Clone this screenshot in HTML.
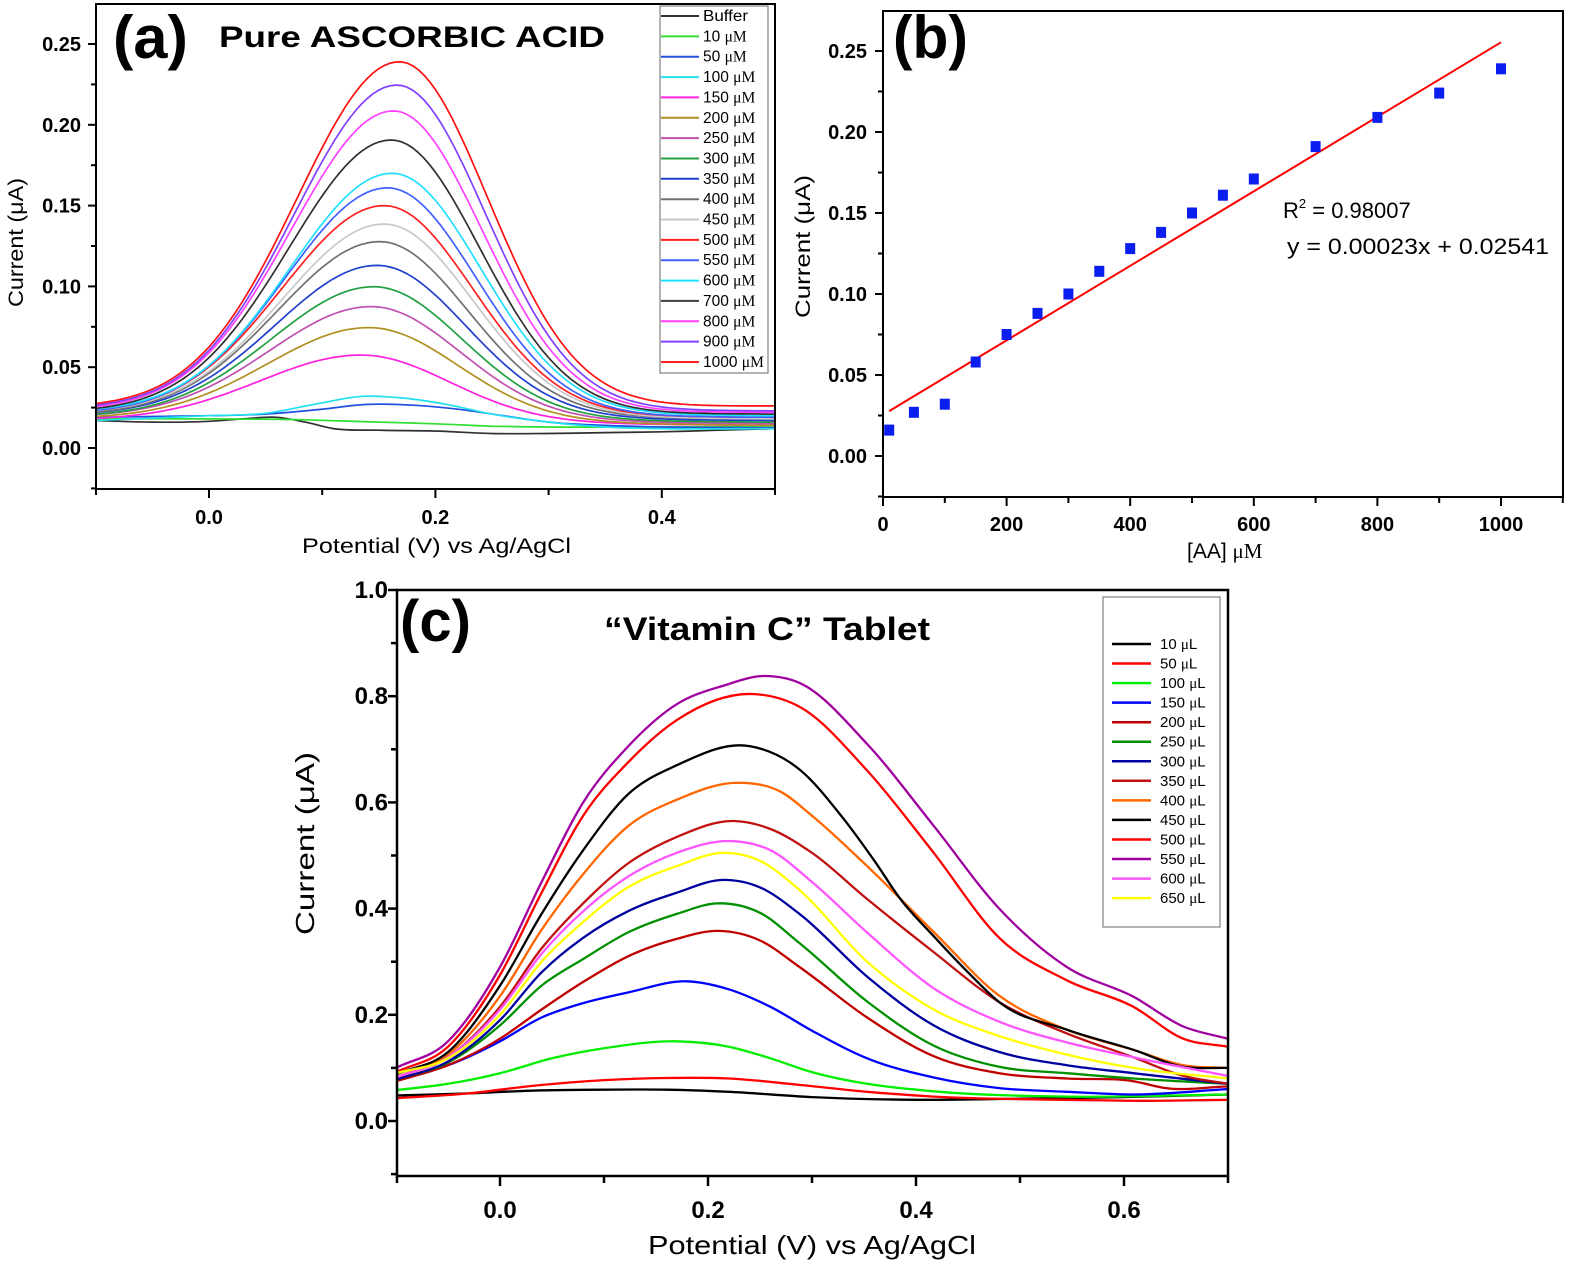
<!DOCTYPE html>
<html>
<head>
<meta charset="utf-8">
<style>
html,body{margin:0;padding:0;background:#fff;}
svg{display:block;}
text{font-family:"Liberation Sans",Arial,sans-serif;fill:#000;}
.b{font-weight:bold;}
.s{font-family:"Liberation Serif","Times New Roman",serif;}
.lg{font-size:15px;fill:#222;}
.lga{font-size:15.5px;fill:#222;}
</style>
</head>
<body>
<svg id="fig" width="1570" height="1265" viewBox="0 0 1570 1265" xmlns="http://www.w3.org/2000/svg">
<rect x="0" y="0" width="1570" height="1265" fill="#fff"/>
<defs>
<clipPath id="ca"><rect x="97" y="5" width="677" height="483"/></clipPath>
<clipPath id="cb"><rect x="884" y="12" width="678" height="484"/></clipPath>
<clipPath id="cc"><rect x="398" y="591" width="829" height="584"/></clipPath>
</defs>

<!-- ================= PANEL A ================= -->
<g id="curvesA" clip-path="url(#ca)" fill="none" stroke-width="1.7" stroke-linejoin="round"></g>
<rect x="96" y="4" width="679" height="485" fill="none" stroke="#000" stroke-width="2"/>
<g stroke="#000" stroke-width="2">
<line x1="88" y1="448" x2="96" y2="448"/><line x1="88" y1="367.2" x2="96" y2="367.2"/>
<line x1="88" y1="286.4" x2="96" y2="286.4"/><line x1="88" y1="205.6" x2="96" y2="205.6"/>
<line x1="88" y1="124.8" x2="96" y2="124.8"/><line x1="88" y1="44" x2="96" y2="44"/>
<line x1="91" y1="407.6" x2="96" y2="407.6"/><line x1="91" y1="326.8" x2="96" y2="326.8"/>
<line x1="91" y1="246" x2="96" y2="246"/><line x1="91" y1="165.2" x2="96" y2="165.2"/>
<line x1="91" y1="84.4" x2="96" y2="84.4"/><line x1="91" y1="488.4" x2="96" y2="488.4"/>
<line x1="209" y1="489" x2="209" y2="498"/><line x1="435.4" y1="489" x2="435.4" y2="498"/>
<line x1="661.8" y1="489" x2="661.8" y2="498"/>
<line x1="96" y1="489" x2="96" y2="495"/><line x1="322.2" y1="489" x2="322.2" y2="495"/>
<line x1="548.6" y1="489" x2="548.6" y2="495"/><line x1="775" y1="489" x2="775" y2="495"/>
</g>
<g class="b" font-size="20" text-anchor="end">
<text x="81" y="455">0.00</text>
<text x="81" y="374.2">0.05</text>
<text x="81" y="293.4">0.10</text>
<text x="81" y="212.6">0.15</text>
<text x="81" y="131.8">0.20</text>
<text x="81" y="51">0.25</text>
</g>
<g class="b" font-size="20" text-anchor="middle">
<text x="209" y="524">0.0</text>
<text x="435.4" y="524">0.2</text>
<text x="661.8" y="524">0.4</text>
</g>
<text x="302" y="553" font-size="21" textLength="269" lengthAdjust="spacingAndGlyphs">Potential (V) vs Ag/AgCl</text>
<text transform="translate(23,307) rotate(-90)" font-size="21" textLength="129" lengthAdjust="spacingAndGlyphs">Current (μA)</text>
<text class="b" x="113" y="58" font-size="60" textLength="75" lengthAdjust="spacingAndGlyphs">(a)</text>
<text class="b" x="219" y="47" font-size="30" textLength="386" lengthAdjust="spacingAndGlyphs">Pure ASCORBIC ACID</text>

<!-- legend A -->
<rect x="660" y="6" width="108" height="367" fill="#fff" stroke="#808080" stroke-width="1.2"/>
<g stroke-width="2">
<line x1="661" y1="16" x2="699" y2="16" stroke="#333"/>
<line x1="661" y1="36.4" x2="699" y2="36.4" stroke="#30e030"/>
<line x1="661" y1="56.7" x2="699" y2="56.7" stroke="#2050e0"/>
<line x1="661" y1="77.1" x2="699" y2="77.1" stroke="#20e0f0"/>
<line x1="661" y1="97.4" x2="699" y2="97.4" stroke="#ff20e0"/>
<line x1="661" y1="117.8" x2="699" y2="117.8" stroke="#b09020"/>
<line x1="661" y1="138.1" x2="699" y2="138.1" stroke="#c050b0"/>
<line x1="661" y1="158.5" x2="699" y2="158.5" stroke="#20a040"/>
<line x1="661" y1="178.8" x2="699" y2="178.8" stroke="#2040d0"/>
<line x1="661" y1="199.2" x2="699" y2="199.2" stroke="#707070"/>
<line x1="661" y1="219.5" x2="699" y2="219.5" stroke="#c8c8c8"/>
<line x1="661" y1="239.9" x2="699" y2="239.9" stroke="#ff2020"/>
<line x1="661" y1="260.2" x2="699" y2="260.2" stroke="#4060ff"/>
<line x1="661" y1="280.6" x2="699" y2="280.6" stroke="#20e0ff"/>
<line x1="661" y1="300.9" x2="699" y2="300.9" stroke="#404040"/>
<line x1="661" y1="321.3" x2="699" y2="321.3" stroke="#ff40ff"/>
<line x1="661" y1="341.6" x2="699" y2="341.6" stroke="#8040ff"/>
<line x1="661" y1="362" x2="699" y2="362" stroke="#ff2020"/>
</g>
<g class="lga">
<text x="703" y="21" textLength="45" lengthAdjust="spacingAndGlyphs">Buffer</text>
<text x="703" y="41.4">10 <tspan class="s">μM</tspan></text>
<text x="703" y="61.7">50 <tspan class="s">μM</tspan></text>
<text x="703" y="82.1">100 <tspan class="s">μM</tspan></text>
<text x="703" y="102.4">150 <tspan class="s">μM</tspan></text>
<text x="703" y="122.8">200 <tspan class="s">μM</tspan></text>
<text x="703" y="143.1">250 <tspan class="s">μM</tspan></text>
<text x="703" y="163.5">300 <tspan class="s">μM</tspan></text>
<text x="703" y="183.8">350 <tspan class="s">μM</tspan></text>
<text x="703" y="204.2">400 <tspan class="s">μM</tspan></text>
<text x="703" y="224.5">450 <tspan class="s">μM</tspan></text>
<text x="703" y="244.9">500 <tspan class="s">μM</tspan></text>
<text x="703" y="265.2">550 <tspan class="s">μM</tspan></text>
<text x="703" y="285.6">600 <tspan class="s">μM</tspan></text>
<text x="703" y="305.9">700 <tspan class="s">μM</tspan></text>
<text x="703" y="326.3">800 <tspan class="s">μM</tspan></text>
<text x="703" y="346.6">900 <tspan class="s">μM</tspan></text>
<text x="703" y="367">1000 <tspan class="s">μM</tspan></text>
</g>

<!-- ================= PANEL B ================= -->
<rect x="883" y="11" width="680" height="486" fill="none" stroke="#000" stroke-width="2"/>
<g stroke="#000" stroke-width="2">
<line x1="875" y1="456" x2="883" y2="456"/><line x1="875" y1="375" x2="883" y2="375"/>
<line x1="875" y1="294" x2="883" y2="294"/><line x1="875" y1="213" x2="883" y2="213"/>
<line x1="875" y1="132" x2="883" y2="132"/><line x1="875" y1="51" x2="883" y2="51"/>
<line x1="878" y1="415.5" x2="883" y2="415.5"/><line x1="878" y1="334.5" x2="883" y2="334.5"/>
<line x1="878" y1="253.5" x2="883" y2="253.5"/><line x1="878" y1="172.5" x2="883" y2="172.5"/>
<line x1="878" y1="91.5" x2="883" y2="91.5"/><line x1="878" y1="496.5" x2="883" y2="496.5"/>
<line x1="883" y1="497" x2="883" y2="506"/><line x1="1006.6" y1="497" x2="1006.6" y2="506"/>
<line x1="1130.2" y1="497" x2="1130.2" y2="506"/><line x1="1253.8" y1="497" x2="1253.8" y2="506"/>
<line x1="1377.4" y1="497" x2="1377.4" y2="506"/><line x1="1501" y1="497" x2="1501" y2="506"/>
<line x1="944.8" y1="497" x2="944.8" y2="503"/><line x1="1068.4" y1="497" x2="1068.4" y2="503"/>
<line x1="1192" y1="497" x2="1192" y2="503"/><line x1="1315.6" y1="497" x2="1315.6" y2="503"/>
<line x1="1439.2" y1="497" x2="1439.2" y2="503"/><line x1="1562.8" y1="497" x2="1562.8" y2="503"/>
</g>
<g class="b" font-size="20" text-anchor="end">
<text x="867" y="463">0.00</text>
<text x="867" y="382">0.05</text>
<text x="867" y="301">0.10</text>
<text x="867" y="220">0.15</text>
<text x="867" y="139">0.20</text>
<text x="867" y="58">0.25</text>
</g>
<g class="b" font-size="20" text-anchor="middle">
<text x="883" y="531">0</text>
<text x="1006.6" y="531">200</text>
<text x="1130.2" y="531">400</text>
<text x="1253.8" y="531">600</text>
<text x="1377.4" y="531">800</text>
<text x="1501" y="531">1000</text>
</g>
<text x="1187" y="558" font-size="21">[AA] <tspan class="s">μM</tspan></text>
<text transform="translate(810,318) rotate(-90)" font-size="21" textLength="143" lengthAdjust="spacingAndGlyphs">Current (μA)</text>
<text class="b" x="893" y="58" font-size="60" textLength="75" lengthAdjust="spacingAndGlyphs">(b)</text>
<g clip-path="url(#cb)">
<line x1="889.2" y1="411.1" x2="1501" y2="42.3" stroke="#ff0000" stroke-width="2"/>
<g fill="#0a1ef0" id="sq"></g>
</g>
<text x="1283" y="218" font-size="22">R<tspan dy="-10" font-size="13">2</tspan><tspan dy="10"> = 0.98007</tspan></text>
<text x="1287" y="254" font-size="22" textLength="262" lengthAdjust="spacingAndGlyphs">y = 0.00023x + 0.02541</text>

<!-- ================= PANEL C ================= -->
<g id="curvesC" clip-path="url(#cc)" fill="none" stroke-width="2.3" stroke-linejoin="round"></g>
<rect x="397" y="590" width="831" height="586" fill="none" stroke="#000" stroke-width="2.5"/>
<g stroke="#000" stroke-width="2.5">
<line x1="388" y1="1121" x2="397" y2="1121"/><line x1="388" y1="1014.8" x2="397" y2="1014.8"/>
<line x1="388" y1="908.6" x2="397" y2="908.6"/><line x1="388" y1="802.4" x2="397" y2="802.4"/>
<line x1="388" y1="696.2" x2="397" y2="696.2"/><line x1="388" y1="590" x2="397" y2="590"/>
<line x1="391" y1="1174.1" x2="397" y2="1174.1"/><line x1="391" y1="1067.9" x2="397" y2="1067.9"/>
<line x1="391" y1="961.7" x2="397" y2="961.7"/><line x1="391" y1="855.5" x2="397" y2="855.5"/>
<line x1="391" y1="749.3" x2="397" y2="749.3"/><line x1="391" y1="643.1" x2="397" y2="643.1"/>
<line x1="500" y1="1176" x2="500" y2="1186"/><line x1="708" y1="1176" x2="708" y2="1186"/>
<line x1="916" y1="1176" x2="916" y2="1186"/><line x1="1124" y1="1176" x2="1124" y2="1186"/>
<line x1="397" y1="1176" x2="397" y2="1183"/><line x1="604" y1="1176" x2="604" y2="1183"/>
<line x1="812" y1="1176" x2="812" y2="1183"/><line x1="1020" y1="1176" x2="1020" y2="1183"/>
<line x1="1228" y1="1176" x2="1228" y2="1183"/>
</g>
<g class="b" font-size="24" text-anchor="end">
<text x="388" y="1129">0.0</text>
<text x="388" y="1022.8">0.2</text>
<text x="388" y="916.6">0.4</text>
<text x="388" y="810.4">0.6</text>
<text x="388" y="704.2">0.8</text>
<text x="388" y="598">1.0</text>
</g>
<g class="b" font-size="24" text-anchor="middle">
<text x="500" y="1218">0.0</text>
<text x="708" y="1218">0.2</text>
<text x="916" y="1218">0.4</text>
<text x="1124" y="1218">0.6</text>
</g>
<text x="648" y="1254" font-size="26" textLength="328" lengthAdjust="spacingAndGlyphs">Potential (V) vs Ag/AgCl</text>
<text transform="translate(314,935) rotate(-90)" font-size="26" textLength="183" lengthAdjust="spacingAndGlyphs">Current (μA)</text>
<text class="b" x="400" y="641" font-size="58" textLength="71" lengthAdjust="spacingAndGlyphs">(c)</text>
<text class="b" x="604" y="640" font-size="32" textLength="326" lengthAdjust="spacingAndGlyphs">“Vitamin C” Tablet</text>

<!-- legend C -->
<rect x="1103" y="597" width="117" height="330" fill="#fff" stroke="#808080" stroke-width="1.2"/>
<g stroke-width="2.5">
<line x1="1112" y1="644" x2="1151" y2="644" stroke="#000"/>
<line x1="1112" y1="663.5" x2="1151" y2="663.5" stroke="#ff0000"/>
<line x1="1112" y1="683.1" x2="1151" y2="683.1" stroke="#00ee00"/>
<line x1="1112" y1="702.6" x2="1151" y2="702.6" stroke="#0000ff"/>
<line x1="1112" y1="722.2" x2="1151" y2="722.2" stroke="#c00000"/>
<line x1="1112" y1="741.7" x2="1151" y2="741.7" stroke="#009000"/>
<line x1="1112" y1="761.3" x2="1151" y2="761.3" stroke="#0000a0"/>
<line x1="1112" y1="780.8" x2="1151" y2="780.8" stroke="#c01010"/>
<line x1="1112" y1="800.4" x2="1151" y2="800.4" stroke="#ff6600"/>
<line x1="1112" y1="819.9" x2="1151" y2="819.9" stroke="#000"/>
<line x1="1112" y1="839.5" x2="1151" y2="839.5" stroke="#ff0000"/>
<line x1="1112" y1="859" x2="1151" y2="859" stroke="#a000a0"/>
<line x1="1112" y1="878.6" x2="1151" y2="878.6" stroke="#ff55ff"/>
<line x1="1112" y1="898.1" x2="1151" y2="898.1" stroke="#ffff00"/>
</g>
<g class="lg">
<text x="1160" y="649">10 <tspan class="s">μ</tspan>L</text>
<text x="1160" y="668.5">50 <tspan class="s">μ</tspan>L</text>
<text x="1160" y="688.1">100 <tspan class="s">μ</tspan>L</text>
<text x="1160" y="707.6">150 <tspan class="s">μ</tspan>L</text>
<text x="1160" y="727.2">200 <tspan class="s">μ</tspan>L</text>
<text x="1160" y="746.7">250 <tspan class="s">μ</tspan>L</text>
<text x="1160" y="766.3">300 <tspan class="s">μ</tspan>L</text>
<text x="1160" y="785.8">350 <tspan class="s">μ</tspan>L</text>
<text x="1160" y="805.4">400 <tspan class="s">μ</tspan>L</text>
<text x="1160" y="824.9">450 <tspan class="s">μ</tspan>L</text>
<text x="1160" y="844.5">500 <tspan class="s">μ</tspan>L</text>
<text x="1160" y="864">550 <tspan class="s">μ</tspan>L</text>
<text x="1160" y="883.6">600 <tspan class="s">μ</tspan>L</text>
<text x="1160" y="903.1">650 <tspan class="s">μ</tspan>L</text>
</g>
</svg>

<script>
(function(){
var NS="http://www.w3.org/2000/svg";
/* cubic Hermite spline in data coords (handles non-uniform x spacing), mapped to px */
function hs(pts,fx,fy){
  var n=pts.length,m=[],i;
  for(i=0;i<n;i++){
    if(i===0) m[i]=(pts[1][1]-pts[0][1])/(pts[1][0]-pts[0][0]);
    else if(i===n-1) m[i]=(pts[n-1][1]-pts[n-2][1])/(pts[n-1][0]-pts[n-2][0]);
    else {
      var s0=(pts[i][1]-pts[i-1][1])/(pts[i][0]-pts[i-1][0]);
      var s1=(pts[i+1][1]-pts[i][1])/(pts[i+1][0]-pts[i][0]);
      var h0=pts[i][0]-pts[i-1][0],h1=pts[i+1][0]-pts[i][0];
      m[i]=(s0*h1+s1*h0)/(h0+h1);
    }
  }
  var d="M"+fx(pts[0][0]).toFixed(1)+","+fy(pts[0][1]).toFixed(1);
  for(i=0;i<n-1;i++){
    var x1=pts[i][0],y1=pts[i][1],x2=pts[i+1][0],y2=pts[i+1][1],h=x2-x1;
    var c1x=x1+h/3,c1y=y1+m[i]*h/3,c2x=x2-h/3,c2y=y2-m[i+1]*h/3;
    d+="C"+fx(c1x).toFixed(1)+","+fy(c1y).toFixed(1)+" "+fx(c2x).toFixed(1)+","+fy(c2y).toFixed(1)+" "+fx(x2).toFixed(1)+","+fy(y2).toFixed(1);
  }
  return d;
}
function addPath(g,d,col){var p=document.createElementNS(NS,"path");p.setAttribute("d",d);p.setAttribute("stroke",col);g.appendChild(p);}

/* ---- Panel A ---- */
var gA=document.getElementById("curvesA");
function ax(v){return 209+v*1132;} function ay(v){return 448-v*1616;}
var low=[
 ["#303030",[[-0.1,0.017],[-0.05,0.016],[0.0,0.0165],[0.03,0.018],[0.06,0.019],[0.085,0.016],[0.11,0.012],[0.15,0.011],[0.2,0.0105],[0.25,0.009],[0.3,0.009],[0.35,0.0095],[0.4,0.010],[0.45,0.011],[0.5,0.012]]],
 ["#30e030",[[-0.1,0.018],[0.0,0.018],[0.08,0.0175],[0.15,0.016],[0.2,0.015],[0.25,0.0135],[0.3,0.013],[0.4,0.013],[0.5,0.0135]]],
 ["#2050e0",[[-0.1,0.019],[-0.05,0.0195],[0.0,0.020],[0.05,0.021],[0.1,0.024],[0.14,0.027],[0.18,0.0265],[0.22,0.024],[0.26,0.020],[0.3,0.016],[0.35,0.014],[0.4,0.013],[0.5,0.0125]]],
 ["#20e0f0",[[-0.1,0.017],[-0.05,0.0185],[0.0,0.020],[0.05,0.0215],[0.1,0.028],[0.135,0.032],[0.17,0.031],[0.21,0.027],[0.25,0.021],[0.3,0.016],[0.35,0.013],[0.4,0.012],[0.5,0.012]]]
];
low.forEach(function(c){addPath(gA,hs(c[1],ax,ay),c[0]);});
var A=[
 ["#ff20e0",0.0575,0.135,0.017,0.014],
 ["#b09020",0.0745,0.142,0.018,0.014],
 ["#c050b0",0.0875,0.144,0.019,0.015],
 ["#20a040",0.0998,0.146,0.019,0.016],
 ["#2040d0",0.113,0.149,0.020,0.017],
 ["#707070",0.1277,0.151,0.020,0.018],
 ["#c8c8c8",0.1386,0.155,0.021,0.018],
 ["#ff2020",0.150,0.155,0.021,0.019],
 ["#4060ff",0.161,0.158,0.021,0.019],
 ["#20e0ff",0.170,0.162,0.022,0.020],
 ["#303030",0.1906,0.161,0.022,0.021],
 ["#ff40ff",0.2086,0.163,0.023,0.022],
 ["#8040ff",0.2246,0.166,0.024,0.023],
 ["#ff1010",0.239,0.168,0.025,0.026]
];
A.forEach(function(p){
  var col=p[0],pk=p[1],mu=p[2],b0=p[3],b1=p[4];
  function b(x){return b0+(b1-b0)*(x+0.1)/0.6;}
  var Am=pk-b(mu);
  var pts=[];
  for(var v=-0.1;v<=0.5001;v+=0.005){
    var d=v-mu,s=d<0?0.09:0.078;
    var y=b(v)+Am*Math.exp(-0.5*(d/s)*(d/s));
    pts.push(ax(v).toFixed(1)+","+ay(y).toFixed(1));
  }
  addPath(gA,"M"+pts.join("L"),col);
});

/* ---- Panel B squares ---- */
var sq=document.getElementById("sq");
var B=[[10,0.016],[50,0.027],[100,0.032],[150,0.058],[200,0.075],[250,0.088],[300,0.100],[350,0.114],[400,0.128],[450,0.138],[500,0.150],[550,0.161],[600,0.171],[700,0.191],[800,0.209],[900,0.224],[1000,0.239]];
B.forEach(function(p){var r=document.createElementNS(NS,"rect");var x=883+p[0]*0.618,y=456-p[1]*1620;
 r.setAttribute("x",(x-5).toFixed(1));r.setAttribute("y",(y-5.5).toFixed(1));r.setAttribute("width","10");r.setAttribute("height","11");sq.appendChild(r);});

/* ---- Panel C ---- */
var gC=document.getElementById("curvesC");
function cx(v){return 500+v*1040;} function cy(v){return 1121-v*531;}
var C=[
 ["#000000",[[-0.1,0.048],[-0.03,0.052],[0.03,0.057],[0.1,0.059],[0.16,0.059],[0.22,0.055],[0.3,0.045],[0.4,0.04],[0.5,0.042],[0.6,0.045],[0.7,0.05]]],
 ["#ff0000",[[-0.1,0.043],[-0.03,0.052],[0.03,0.066],[0.1,0.077],[0.16,0.081],[0.22,0.08],[0.288,0.068],[0.353,0.055],[0.417,0.046],[0.545,0.04],[0.62,0.038],[0.7,0.04]]],
 ["#00ee00",[[-0.1,0.058],[-0.05,0.07],[0.0,0.09],[0.05,0.118],[0.1,0.137],[0.17,0.15],[0.22,0.14],[0.26,0.118],[0.3,0.092],[0.353,0.07],[0.417,0.056],[0.545,0.046],[0.7,0.05]]],
 ["#0000ff",[[-0.1,0.078],[-0.05,0.105],[0.0,0.15],[0.04,0.195],[0.08,0.222],[0.123,0.242],[0.18,0.263],[0.22,0.248],[0.26,0.215],[0.3,0.17],[0.353,0.118],[0.417,0.082],[0.48,0.062],[0.545,0.055],[0.609,0.05],[0.7,0.06]]],
 ["#c00000",[[-0.1,0.075],[-0.05,0.105],[0.0,0.155],[0.04,0.21],[0.08,0.262],[0.123,0.31],[0.17,0.343],[0.21,0.358],[0.25,0.34],[0.288,0.29],[0.353,0.195],[0.417,0.122],[0.48,0.09],[0.545,0.08],[0.609,0.075],[0.64,0.062],[0.7,0.065]]],
 ["#009000",[[-0.1,0.078],[-0.05,0.11],[0.0,0.18],[0.04,0.255],[0.08,0.305],[0.123,0.355],[0.17,0.39],[0.21,0.41],[0.25,0.392],[0.288,0.335],[0.353,0.225],[0.417,0.142],[0.48,0.102],[0.545,0.09],[0.609,0.08],[0.7,0.07]]],
 ["#0000a0",[[-0.1,0.078],[-0.05,0.112],[0.0,0.19],[0.04,0.28],[0.08,0.345],[0.123,0.395],[0.17,0.43],[0.215,0.454],[0.25,0.44],[0.288,0.39],[0.353,0.272],[0.417,0.18],[0.48,0.13],[0.545,0.105],[0.609,0.09],[0.7,0.07]]],
 ["#c01010",[[-0.1,0.082],[-0.05,0.12],[0.0,0.215],[0.04,0.325],[0.08,0.41],[0.123,0.485],[0.17,0.535],[0.225,0.565],[0.26,0.55],[0.3,0.505],[0.353,0.418],[0.417,0.318],[0.48,0.224],[0.545,0.165],[0.609,0.12],[0.657,0.085],[0.7,0.07]]],
 ["#ff6600",[[-0.1,0.082],[-0.05,0.125],[0.0,0.235],[0.04,0.36],[0.08,0.465],[0.123,0.555],[0.17,0.605],[0.23,0.637],[0.27,0.62],[0.3,0.575],[0.353,0.48],[0.417,0.356],[0.48,0.236],[0.545,0.172],[0.609,0.134],[0.657,0.105],[0.7,0.10]]],
 ["#000000",[[-0.1,0.088],[-0.05,0.13],[0.0,0.255],[0.04,0.39],[0.08,0.51],[0.123,0.615],[0.17,0.67],[0.24,0.706],[0.288,0.662],[0.33,0.57],[0.36,0.49],[0.385,0.418],[0.417,0.348],[0.45,0.28],[0.48,0.224],[0.545,0.172],[0.609,0.134],[0.657,0.102],[0.7,0.10]]],
 ["#ff0000",[[-0.1,0.092],[-0.05,0.14],[0.0,0.275],[0.04,0.43],[0.08,0.575],[0.123,0.675],[0.17,0.755],[0.245,0.804],[0.288,0.78],[0.353,0.66],[0.417,0.505],[0.48,0.345],[0.545,0.265],[0.609,0.215],[0.657,0.155],[0.7,0.14]]],
 ["#a000a0",[[-0.1,0.10],[-0.05,0.15],[0.0,0.29],[0.04,0.45],[0.08,0.6],[0.123,0.705],[0.17,0.785],[0.215,0.82],[0.255,0.838],[0.288,0.825],[0.353,0.71],[0.417,0.556],[0.48,0.40],[0.545,0.29],[0.609,0.234],[0.657,0.178],[0.7,0.155]]],
 ["#ff55ff",[[-0.1,0.082],[-0.05,0.12],[0.0,0.21],[0.04,0.315],[0.08,0.395],[0.123,0.46],[0.17,0.505],[0.225,0.527],[0.26,0.51],[0.3,0.45],[0.353,0.355],[0.417,0.25],[0.48,0.187],[0.545,0.148],[0.609,0.12],[0.7,0.085]]],
 ["#ffff00",[[-0.1,0.09],[-0.05,0.118],[0.0,0.2],[0.04,0.3],[0.08,0.375],[0.123,0.44],[0.17,0.48],[0.215,0.505],[0.25,0.49],[0.288,0.435],[0.353,0.30],[0.417,0.21],[0.48,0.16],[0.545,0.125],[0.609,0.10],[0.7,0.08]]]
];
C.forEach(function(c){addPath(gC,hs(c[1],cx,cy),c[0]);});
})();
</script>
</body>
</html>
